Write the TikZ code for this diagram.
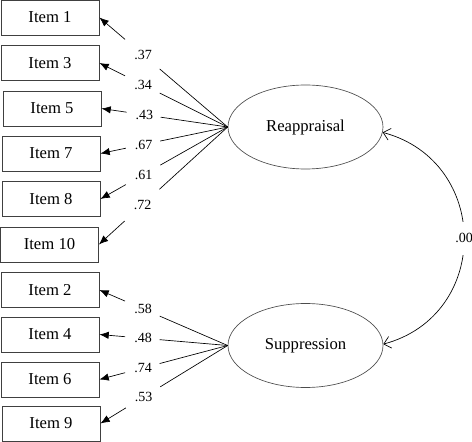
\documentclass[tikz,border=0pt]{standalone}
\usepackage{fontspec}
\setmainfont{Liberation Serif}
\usetikzlibrary{calc,shapes.geometric,arrows.meta}

\begin{document}
\begin{tikzpicture}[x=0.75pt,y=-0.75pt,font=\fontsize{12.5}{14}\selectfont,
  item/.style={draw=black!75,line width=0.6pt,minimum width=73.5pt,minimum height=26.25pt,inner sep=0pt},
  factor/.style={ellipse,draw=black!70,line width=0.5pt,minimum width=116.25pt,minimum height=63pt,inner sep=0pt,font=\fontsize{12.5}{14}\selectfont},
  load/.style={font=\fontsize{10.5}{12}\selectfont},
  tip/.style={-{Latex[length=7pt,width=5.5pt]}}]

\useasboundingbox (0,0) rectangle (472,442);

\node[item] (i1) at (50,17.5) {Item 1};
\node[item] (i3) at (50,63) {Item 3};
\node[item] (i5) at (52,108.5) {Item 5};
\node[item] (i7) at (51,153.5) {Item 7};
\node[item] (i8) at (51,199) {Item 8};
\node[item] (i10) at (49.5,244.5) {Item 10};
\node[item] (i2) at (50,290) {Item 2};
\node[item] (i4) at (50,334.5) {Item 4};
\node[item] (i6) at (50,379.5) {Item 6};
\node[item] (i9) at (51,423.5) {Item 9};

\node[factor] (rea) at (305.5,127) {Reappraisal};
\node[factor] (sup) at (305.5,345.5) {Suppression};

% loadings
\foreach \i/\f/\v in {i1/rea/.37,i3/rea/.34,i5/rea/.43,i7/rea/.67,i8/rea/.61,i10/rea/.72,
                      i2/sup/.58,i4/sup/.48,i6/sup/.74,i9/sup/.53}{
  \draw[line width=0.5pt] (\f.west) -- ($(\f.west)!0.53!(\i.east)$);
  \draw[tip,line width=0.5pt] ($(\f.west)!0.80!(\i.east)$) -- (\i.east);
  \node[load] at ($(\f.west)!0.66!(\i.east)$) {\v};
}

% covariance
\draw[{Straight Barb[length=5pt,width=9pt]}-{Straight Barb[length=5pt,width=9pt]},line width=0.5pt]
  (rea.-4) to[out=-15,in=15,looseness=1.35]
  node[load,fill=white,inner xsep=1pt,inner ysep=9pt] {.00} (sup.1);

\end{tikzpicture}
\end{document}
